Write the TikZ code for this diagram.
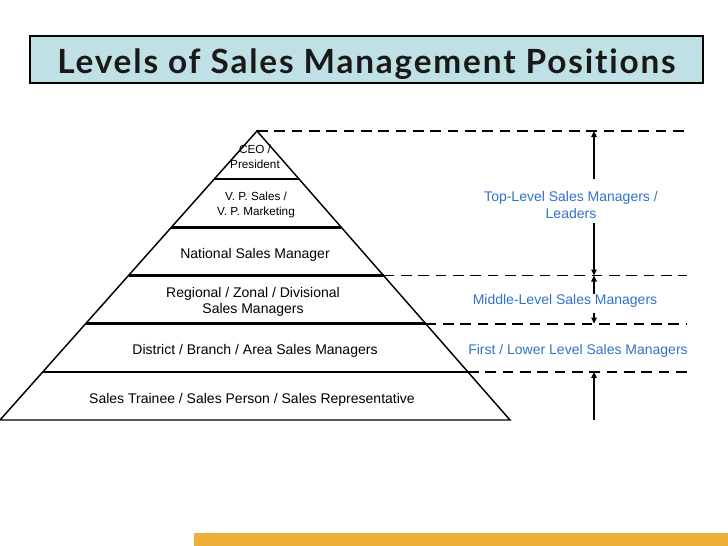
\documentclass[tikz,border=0pt]{standalone}
\usepackage{fontspec}
\setmainfont{Liberation Sans}
\newfontfamily\titlefont[LetterSpace=5.5,Ligatures={NoCommon}]{Lato Bold}
\usepackage{tikz}
\usetikzlibrary{arrows.meta,positioning,calc}
\definecolor{titlebg}{HTML}{BFE1E5}
\definecolor{levelblue}{HTML}{2F72C8}
\definecolor{barorange}{HTML}{EDB13B}
\tikzset{
  titlebox/.style={rectangle,draw=black,fill=titlebg,line width=0.8pt,
    minimum width=504.75pt,minimum height=35.25pt,inner sep=0pt},
  titletext/.style={inner sep=0pt,text=black!90,font=\titlefont\fontsize{25}{30}\selectfont},
  tier/.style={align=center,inner sep=1pt,font=\fontsize{10.5}{12.5}\selectfont},
  smalltier/.style={tier,font=\fontsize{8.8}{11.2}\selectfont},
  pyrside/.style={line width=1.1pt,line join=miter},
  divider/.style={line width=1.9pt},
  guideline/.style={line width=1.4pt,dash pattern=on 8pt off 5pt},
  levellabel/.style={align=center,inner sep=1pt,text=levelblue,
    font=\fontsize{10.5}{12.5}\selectfont},
  lvlarrow/.style={-{Triangle[length=4.5pt,width=4pt]},line width=1.3pt},
}
\begin{document}
\begin{tikzpicture}[x=0.75pt,y=-0.75pt]
  \useasboundingbox (0,0) rectangle (728,546);
  \node[titlebox] (titlebg) at (366.5,59.5) {};
  \node[titletext] (title) at ($(titlebg.center)+(0,5)$) {Levels of Sales Management Positions};
  \fill[barorange] (194,533) rectangle (728,546);

  \coordinate (apex) at (257,131);
  \coordinate (bl) at (0,420);
  \coordinate (br) at (510,420);
  \draw[pyrside] (bl) -- (apex) -- (br) -- cycle;
  \foreach \k in {1,...,5}
    \draw[divider] ($(apex)!\k/6!(bl)$) coordinate (l\k) -- ($(apex)!\k/6!(br)$) coordinate (r\k);

  \node[smalltier] (ceo) at (255,157) {CEO /\\President};
  \node[smalltier] (vp) at (256,205) {V. P. Sales /\\V. P. Marketing};
  \node[tier] (nsm) at (255,255) {National Sales Manager};
  \node[tier] (rsm) at (253,302) {Regional / Zonal / Divisional\\Sales Managers};
  \node[tier] (dsm) at (255,351) {District / Branch / Area Sales Managers};
  \node[tier] (srep) at (252,400) {Sales Trainee / Sales Person / Sales Representative};

  \coordinate (dend) at (687,0);
  \draw[guideline] (apex) -- (apex -| dend);
  \draw[guideline] (r3) -- (r3 -| dend);
  \draw[guideline] (r4) -- (r4 -| dend);
  \draw[guideline] (r5) -- (r5 -| dend);

  \node[levellabel] (toplvl) at (571,205) {Top-Level Sales Managers /\\Leaders};
  \node[levellabel] (midlvl) at (565,301) {Middle-Level Sales Managers};
  \node[levellabel] (firstlvl) at (578,351) {First / Lower Level Sales Managers};

  \coordinate (a1) at (594,179);
  \coordinate (a2) at (594,223);
  \coordinate (a3) at (594,294);
  \coordinate (a4) at (594,313);
  \coordinate (a5) at (594,420);
  \draw[lvlarrow] (a1) -- (apex -| a1);
  \draw[lvlarrow] (a2) -- (r3 -| a2);
  \draw[lvlarrow] (a3) -- (r3 -| a3);
  \draw[lvlarrow] (a4) -- (r4 -| a4);
  \draw[lvlarrow] (a5) -- (r5 -| a5);
\end{tikzpicture}
\end{document}
